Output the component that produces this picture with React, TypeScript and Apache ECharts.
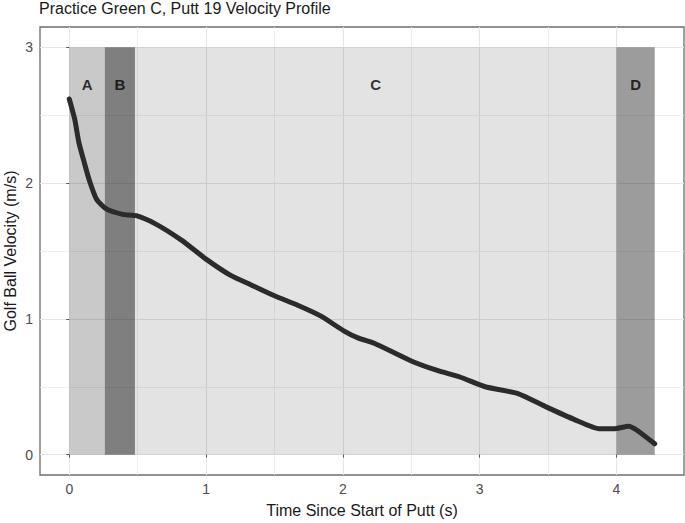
import * as echarts from 'echarts';
import { useEffect, useRef } from 'react';

// velocity trace
const timeS = [0, 0.04, 0.07, 0.11, 0.15, 0.2, 0.27, 0.39, 0.49, 0.63, 0.82, 1.0, 1.18, 1.33, 1.5, 1.67, 1.84, 2.01, 2.11, 2.23, 2.5, 2.69, 2.86, 3.04, 3.28, 3.49, 3.69, 3.88, 3.98, 4.09, 4.15, 4.28];
const velocity = [2.62, 2.47, 2.3, 2.15, 2.01, 1.88, 1.81, 1.77, 1.76, 1.7, 1.58, 1.44, 1.32, 1.25, 1.17, 1.1, 1.02, 0.91, 0.86, 0.82, 0.69, 0.62, 0.57, 0.5, 0.45, 0.35, 0.26, 0.19, 0.19, 0.21, 0.18, 0.08];

// putt phases
const phaseNames = ['A', 'B', 'C', 'D'];
const phaseStart = [0, 0.26, 0.48, 4.0];
const phaseEnd = [0.26, 0.48, 4.0, 4.28];
const phaseTop = 3;
const phaseLabelY = 2.73;

const xTicks = [0, 1, 2, 3, 4];
const yTicks = [0, 1, 2, 3];
const xMinor = [0.5, 1.5, 2.5, 3.5];
const yMinor = [0.5, 1.5, 2.5];

const FONT = '"Liberation Sans", Arial, sans-serif';
const phaseColors = ['rgba(0,0,0,0.21)', 'rgba(0,0,0,0.5)', 'rgba(0,0,0,0.11)', 'rgba(0,0,0,0.39)'];

const App = () => {
    const chartRef = useRef(null);

    useEffect(() => {
        const chart = echarts.init(chartRef.current, null, { renderer: 'svg' });

        const xPad = (phaseEnd[3] - 0) * 0.05;
        const yPad = phaseTop * 0.05;

        const option = {
            animation: false,
            backgroundColor: '#ffffff',
            textStyle: { fontFamily: FONT },
            title: {
                text: 'Practice Green C, Putt 19 Velocity Profile',
                left: 39,
                top: 0,
                padding: 0,
                textStyle: { fontFamily: FONT, fontSize: 16, fontWeight: 'normal', color: '#1a1a1a' },
            },
            grid: {
                left: 40,
                right: 1,
                top: 27,
                bottom: 48,
                outerBoundsMode: 'none',
                containLabel: false,
                show: true,
                backgroundColor: '#ffffff',
                borderColor: '#6e6e6e',
                borderWidth: 1.3,
            },
            xAxis: {
                type: 'value',
                min: -xPad,
                max: phaseEnd[3] + xPad,
                minInterval: 1,
                maxInterval: 1,
                name: 'Time Since Start of Putt (s)',
                nameLocation: 'middle',
                nameGap: 27,
                nameMoveOverlap: false,
                nameTextStyle: { fontFamily: FONT, fontSize: 16, color: '#1a1a1a' },
                axisLine: { show: false },
                axisTick: { show: true, length: 3, customValues: xTicks, lineStyle: { color: '#555555' } },
                axisLabel: { customValues: xTicks, margin: 7, fontSize: 14, color: '#4d4d4d', fontFamily: FONT },
                splitLine: { show: true, lineStyle: { color: '#e6e6e6', width: 1.1 } },
            },
            yAxis: {
                type: 'value',
                min: -yPad,
                max: phaseTop + yPad,
                minInterval: 1,
                maxInterval: 1,
                name: 'Golf Ball Velocity (m/s)',
                nameLocation: 'middle',
                nameGap: 22,
                nameMoveOverlap: false,
                nameTextStyle: { fontFamily: FONT, fontSize: 16, color: '#1a1a1a' },
                axisLine: { show: false },
                axisTick: { show: true, length: 3, customValues: yTicks, lineStyle: { color: '#555555' } },
                axisLabel: { customValues: yTicks, margin: 7, fontSize: 14, color: '#4d4d4d', fontFamily: FONT },
                splitLine: { show: true, lineStyle: { color: '#e6e6e6', width: 1.1 } },
            },
            series: [
                {
                    // minor grid + phase shading
                    type: 'line',
                    data: [],
                    silent: true,
                    markLine: {
                        z: 0.5,
                        silent: true,
                        symbol: 'none',
                        label: { show: false },
                        lineStyle: { color: '#ebebeb', width: 0.8, type: 'solid' },
                        data: [
                            ...xMinor.map((v) => ({ xAxis: v })),
                            ...yMinor.map((v) => ({ yAxis: v })),
                        ],
                    },
                    markArea: {
                        z: 1,
                        silent: true,
                        label: { show: false },
                        data: phaseNames.map((n, i) => [
                            { xAxis: phaseStart[i], yAxis: 0, itemStyle: { color: phaseColors[i] } },
                            { xAxis: phaseEnd[i], yAxis: phaseTop },
                        ]),
                    },
                },
                {
                    type: 'line',
                    z: 3,
                    data: timeS.map((t, i) => [t, velocity[i]]),
                    showSymbol: false,
                    symbol: 'none',
                    smooth: 0.2,
                    lineStyle: { color: '#2b2b2b', width: 5, cap: 'round', join: 'round' },
                },
                {
                    type: 'scatter',
                    z: 4,
                    silent: true,
                    symbolSize: 1,
                    itemStyle: { color: 'rgba(0,0,0,0)' },
                    label: {
                        show: true,
                        position: 'inside',
                        formatter: '{b}',
                        fontFamily: FONT,
                        fontSize: 15,
                        fontWeight: 'bold',
                        color: '#000000',
                    },
                    data: phaseNames.map((n, i) => ({
                        name: n,
                        value: [(phaseStart[i] + phaseEnd[i]) / 2, phaseLabelY],
                    })),
                },
            ],
        };

        chart.setOption(option);

        return () => {
            chart.dispose();
        };
    }, []);

    return (
        <div
            ref={chartRef}
            style={{ position: 'fixed', left: 0, top: 0, width: '685px', height: '523px' }}
        />
    );
};

export default App;
